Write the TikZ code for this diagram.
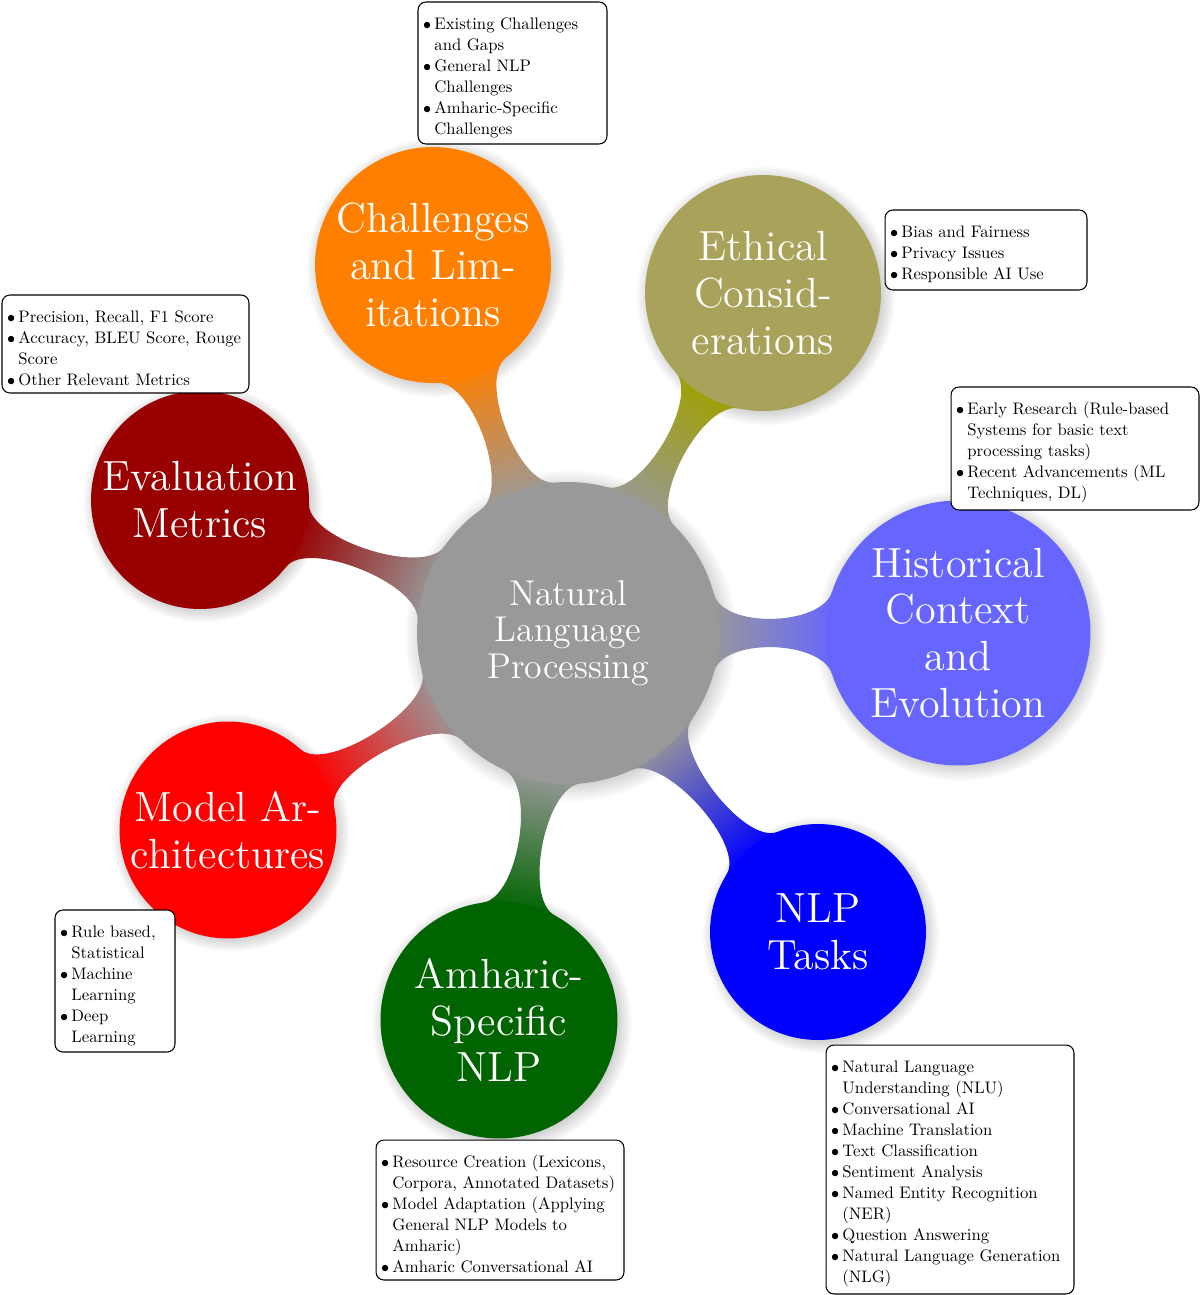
\documentclass[tikz,border=0pt]{standalone}
\usetikzlibrary{calc,shadows}
\definecolor{cgray}{RGB}{153,153,153}
\definecolor{corange}{RGB}{255,128,0}
\definecolor{cethic}{RGB}{169,162,91}
\definecolor{cethicbar}{RGB}{160,160,0}
\definecolor{chist}{RGB}{102,102,255}
\definecolor{cnlp}{RGB}{0,0,255}
\definecolor{camh}{RGB}{0,100,0}
\definecolor{cmodel}{RGB}{255,0,0}
\definecolor{ceval}{RGB}{153,0,0}
\newlength\itmw
\setlength\itmw{6.5pt}
\newcommand\bu{\makebox[\itmw][l]{$\bullet$}}
\newcommand\co{\hspace*{\itmw}}
\newcommand\fst{\rule{0pt}{12pt}}
\newcommand\bxfont{\fontsize{9.5}{11.95}\selectfont}
\font\ccfnt="[lmroman12-regular]" at 24pt
\font\rtfnt="[lmroman12-regular]" at 20.4pt
\newcommand\ccfont{\ccfnt\baselineskip=26.7pt}
\newcommand\rtfont{\rtfnt\baselineskip=20.9pt}
\def\cnA{15}
\def\cnB{18}
\def\cnK{36}
\pgfdeclarelayer{shadowlayer}
\pgfdeclarelayer{connlayer}
\pgfsetlayers{shadowlayer,connlayer,main}
\newcommand\linkcc[4]{%
  \path let \p1=($(#1.east)-(#1.center)$), \p2=($(#2.east)-(#2.center)$),
            \p3=($(#2.center)-(#1.center)$), \n1={atan2(\y3,\x3)}, \n2={\n1-90} in
    [bottom color=#3, top color=#4, shading angle=\n2]
    ($(#1.center)+(\n1+\cnA:\x1)$)
    .. controls +(\n1+\cnA-90:\cnK) and +(\n1+270-\cnB:\cnK) ..
    ($(#2.center)+(\n1+180-\cnB:\x2)$)
    -- ($(#2.center)+(\n1+180-\cnB:\x2-2pt)$)
    arc[start angle=\n1+180-\cnB, end angle=\n1+180+\cnB, radius=\x2-2pt]
    -- ($(#2.center)+(\n1+180+\cnB:\x2)$)
    .. controls +(\n1+90+\cnB:\cnK) and +(\n1-\cnA+90:\cnK) ..
    ($(#1.center)+(\n1-\cnA:\x1)$)
    -- ($(#1.center)+(\n1-\cnA:\x1-2pt)$)
    arc[start angle=\n1-\cnA, end angle=\n1+\cnA, radius=\x1-2pt]
    -- cycle;}
\begin{document}
\begin{tikzpicture}[x=0.02cm,y=0.02cm,
  bubble/.style={circle, fill=#1, text=white, align=center, inner sep=0pt, outer sep=0pt, font=\ccfont},
  infobox/.style={draw=black, line width=0.6pt, rounded corners=4.5pt, fill=white,
    inner xsep=0.1cm, inner ysep=3pt, align=flush left, font=\bxfont, anchor=center}]
\useasboundingbox (0,0) rectangle (1200,-1295);

% concepts
\node[bubble=cgray, minimum size=6.04cm, font=\rtfont] (root) at (568,-633) {Natural\\Language\\Processing};
\node[bubble=corange, minimum size=4.72cm] (chal) at (433,-265) {Challenges\\and Lim-\\itations};
\node[bubble=cethic, minimum size=4.72cm] (eth) at (763,-293) {Ethical\\Consid-\\erations};
\node[bubble=chist, minimum size=5.3cm] (hist) at (958,-633) {Historical\\Context\\and\\Evolution};
\node[bubble=cnlp, minimum size=4.32cm] (task) at (818,-932) {NLP\\Tasks};
\node[bubble=camh, minimum size=4.74cm] (amh) at (499,-1020) {Amharic-\\Specific\\NLP};
\node[bubble=cmodel, minimum size=4.34cm] (arch) at (228,-830) {Model Ar-\\chitectures};
\node[bubble=ceval, minimum size=4.36cm] (eval) at (200,-500) {Evaluation\\Metrics};

% shadows
\begin{pgfonlayer}{shadowlayer}
\foreach \nm in {root,chal,eth,hist,task,amh,arch,eval}
  \path[circular drop shadow={opacity=0.45}] let \p1=($(\nm.east)-(\nm.center)$) in (\nm.center) circle[radius=\x1];
\end{pgfonlayer}

% connections
\begin{pgfonlayer}{connlayer}
\linkcc{root}{chal}{cgray}{corange}
\linkcc{root}{eth}{cgray}{cethicbar}
\linkcc{root}{hist}{cgray}{chist}
\linkcc{root}{task}{cgray}{cnlp}
\linkcc{root}{amh}{cgray}{camh}
\linkcc{root}{arch}{cgray}{cmodel}
\linkcc{root}{eval}{cgray}{ceval}
\end{pgfonlayer}

% detail boxes
\node[infobox, text width=3.58cm, minimum height=2.84cm] (bchal) at (512.5,-73)
  {\fst\bu Existing Challenges\\ \co and Gaps\\ \bu General NLP\\ \co Challenges\\ \bu Amharic-Specific\\ \co Challenges};
\node[infobox, text width=3.84cm, minimum height=1.6cm] (beth) at (986,-250)
  {\fst\bu Bias and Fairness\\ \bu Privacy Issues\\ \bu Responsible AI Use};
\node[infobox, text width=4.76cm, minimum height=2.46cm] (bhist) at (1075,-448.5)
  {\fst\bu Early Research (Rule-based\\ \co Systems for basic text\\ \co processing tasks)\\ \bu Recent Advancements (ML\\ \co Techniques, DL)};
\node[infobox, text width=4.74cm, minimum height=1.96cm] (beval) at (125.5,-344)
  {\fst\bu Precision, Recall, F1 Score\\ \bu Accuracy, BLEU Score, Rouge\\ \co Score\\ \bu Other Relevant Metrics};
\node[infobox, text width=2.2cm, minimum height=2.84cm] (barch) at (115,-981)
  {\fst\bu Rule based,\\ \co Statistical\\ \bu Machine\\ \co Learning\\ \bu Deep\\ \co Learning};
\node[infobox, text width=4.76cm, minimum height=2.8cm] (bamh) at (500,-1210)
  {\fst\bu Resource Creation (Lexicons,\\ \co Corpora, Annotated Datasets)\\ \bu Model Adaptation (Applying\\ \co General NLP Models to\\ \co Amharic)\\ \bu Amharic Conversational AI};
\node[infobox, text width=4.76cm, minimum height=4.98cm] (btask) at (950,-1169.5)
  {\fst\bu Natural Language\\ \co Understanding (NLU)\\ \bu Conversational AI\\ \bu Machine Translation\\ \bu Text Classification\\ \bu Sentiment Analysis\\ \bu Named Entity Recognition\\ \co (NER)\\ \bu Question Answering\\ \bu Natural Language Generation\\ \co (NLG)};
\end{tikzpicture}
\end{document}
